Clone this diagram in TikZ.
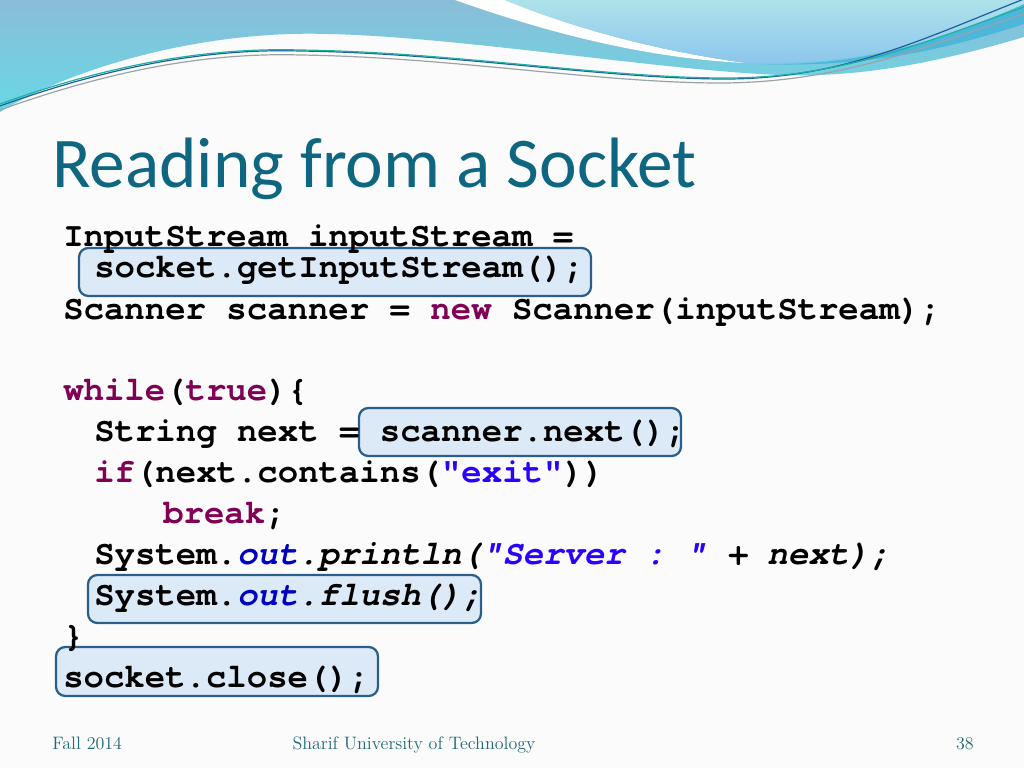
\documentclass[tikz,border=0pt]{standalone}
\usepackage{fontspec}
\setmonofont{TeX Gyre Cursor}[Ligatures=NoCommon]
\newfontfamily\titlefont{Carlito}
\definecolor{bgc}{HTML}{FBFBFB}
\definecolor{titlec}{HTML}{0E6680}
\definecolor{footc}{HTML}{1F6878}
\definecolor{kwc}{HTML}{7F0055}
\definecolor{strc}{HTML}{2A00FF}
\definecolor{fldc}{HTML}{0000C0}
\definecolor{boxfill}{HTML}{DCE9F6}
\definecolor{boxdraw}{HTML}{2A5F8C}
\definecolor{waveA1}{HTML}{8ABDD7}
\definecolor{waveA2}{HTML}{68D8E6}
\definecolor{waveB1}{HTML}{AEE2E9}
\definecolor{waveB2}{HTML}{8CC5EE}
\definecolor{ribbon}{HTML}{4CB6DB}
\definecolor{lineA}{HTML}{1F5F9F}
\definecolor{lineB}{HTML}{1FB0A0}
\definecolor{lineC}{HTML}{9AA4A8}
\newcommand{\kw}[1]{\textcolor{kwc}{#1}}
\newcommand{\str}[1]{\textcolor{strc}{#1}}
\newcommand{\fld}[1]{\textcolor{fldc}{#1}}
\tikzset{
  codeline/.style={anchor=base west, inner sep=0pt, font=\fontsize{25.5}{30}\selectfont\ttfamily\bfseries},
  hlbox/.style={draw=boxdraw, fill=boxfill, line width=1.7pt, rounded corners=7pt},
  footer/.style={inner sep=0pt, text=footc, font=\fontsize{13.5}{15}\selectfont},
  waveline/.style={line width=0.9pt}
}
\begin{document}
\begin{tikzpicture}[x=0.75pt,y=-0.75pt]
\useasboundingbox (0,0) rectangle (1024,768);
\fill[bgc] (0,0) rectangle (1024,768);
% main blue region
\shade[top color=waveA1, bottom color=waveA2]
  (0,0) -- (1024,0) -- (1024,37)
  .. controls (940,62) and (860,78) .. (780,75)
  .. controls (650,70) and (420,30) .. (290,34)
  .. controls (170,38) and (60,75) .. (0,112) -- cycle;
% white stripe
\fill[white] (455,0) .. controls (540,30) and (640,58) .. (746,63)
  .. controls (650,50) and (565,25) .. (505,0) -- cycle;
% ribbon
\fill[ribbon] (760,64) .. controls (860,66) and (930,45) .. (1024,3)
  -- (1024,24) .. controls (950,48) and (870,68) .. (760,64) -- cycle;
% upper right light region
\shade[top color=waveB1, bottom color=waveB2]
  (505,0) -- (1024,0) -- (1024,4)
  .. controls (930,45) and (860,65) .. (746,63)
  .. controls (650,50) and (565,25) .. (505,0) -- cycle;
% thin lines
\draw[waveline, lineC] (0,110) .. controls (100,74) and (200,52) .. (300,55)
  .. controls (450,57) and (600,83) .. (720,83) .. controls (840,83) and (930,45) .. (1024,14);
\draw[waveline, lineA] (0,106) .. controls (100,70) and (200,48) .. (300,51)
  .. controls (450,53) and (600,78) .. (720,79) .. controls (840,80) and (920,40) .. (1024,-1);
\draw[waveline, lineB] (0,104) .. controls (100,68) and (200,47) .. (300,50)
  .. controls (450,52) and (600,77) .. (720,78) .. controls (840,79) and (925,42) .. (1024,7);
% title
\node[anchor=base west, inner sep=0pt, text=titlec, font=\fontsize{53.5}{60}\selectfont\titlefont] (title) at (52,187) {Reading from a Socket};
% highlight boxes
\draw[hlbox] (79,248) rectangle (591,296);
\draw[hlbox] (359,408) rectangle (681,456);
\draw[hlbox] (88,575) rectangle (481,623);
\draw[hlbox] (56,647) rectangle (378,696);
% code
\node[codeline] (l1) at (63,246) {InputStream inputStream =};
\node[codeline] (l2) at (94,277) {socket.getInputStream();};
\node[codeline] (l3) at (63,319) {Scanner scanner = \kw{new} Scanner(inputStream);};
\node[codeline] (l4) at (63,400) {\kw{while}(\kw{true})\{};
\node[codeline] (l5) at (94,441) {String next = scanner.next();};
\node[codeline] (l6) at (94,482) {\kw{if}(next.contains(\str{"exit"}))};
\node[codeline] (l7) at (163,523) {\kw{break};};
\node[codeline] (l8) at (94,564) {System.\textit{\fld{out}.println(\str{"Server : "} + next);}};
\node[codeline] (l9) at (94,605) {System.\textit{\fld{out}.f\kern0ptlush();}};
\node[codeline] (l10) at (63,646) {\}};
\node[codeline] (l11) at (63,687) {socket.close();};
% footer
\node[footer, anchor=base west] (f1) at (52,749) {Fall 2014};
\node[footer, anchor=base] (f2) at (414,749) {Sharif University of Technology};
\node[footer, anchor=base east] (f3) at (974,749) {38};
\end{tikzpicture}
\end{document}
